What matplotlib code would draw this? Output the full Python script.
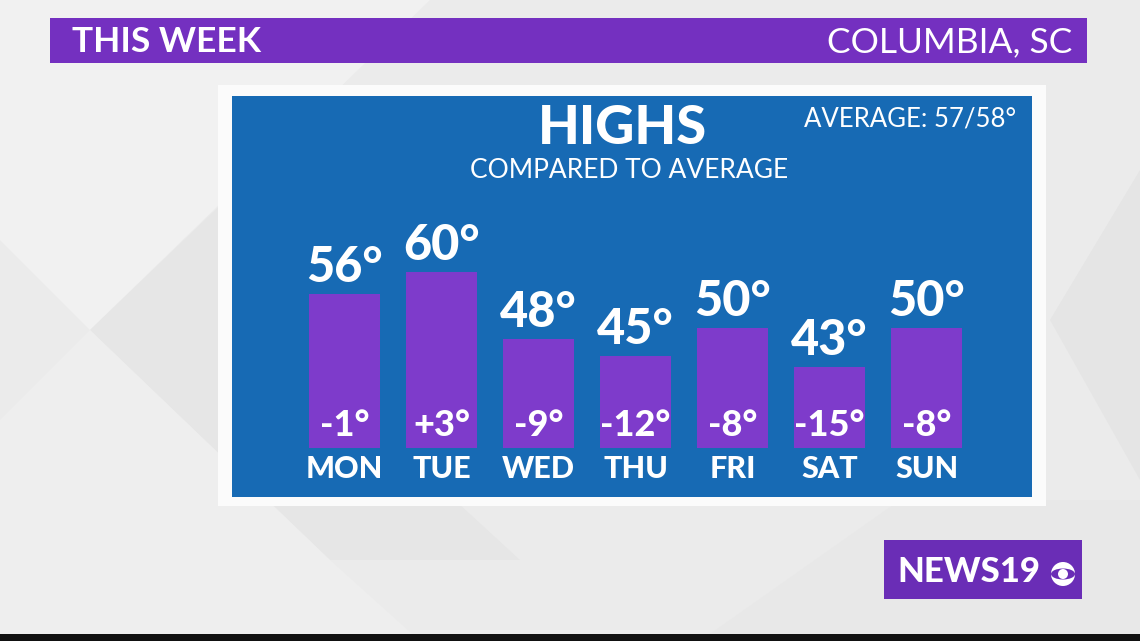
import matplotlib
matplotlib.use("Agg")
import matplotlib.pyplot as plt
from matplotlib.patches import Rectangle, Polygon, Circle, Ellipse
import matplotlib.transforms as mtransforms
import numpy as np

# ---- data ----
days = ["MON", "TUE", "WED", "THU", "FRI", "SAT", "SUN"]
highs = [56, 60, 48, 45, 50, 43, 50]
departures = ["-1°", "+3°", "-9°", "-12°", "-8°", "-15°", "-8°"]
title = "HIGHS"
subtitle = "COMPARED TO AVERAGE"
average_text = "AVERAGE: 57/58°"
header_left = "THIS WEEK"
header_right = "COLUMBIA, SC"
logo_text = "NEWS19"

W, H = 1140, 641
DPI = 100
FONT = "Lato"

fig = plt.figure(figsize=(W / DPI, H / DPI), dpi=DPI)
fig.patch.set_facecolor("#ebebeb")

# background axes in pixel coordinates
bg = fig.add_axes([0, 0, 1, 1])
bg.set_xlim(0, W)
bg.set_ylim(H, 0)
bg.axis("off")
bg.set_facecolor("#ebebeb")

# subtle chevrons
bg.add_patch(Polygon([[0, 0], [430, 0], [90, 330], [0, 240]],
                     closed=True, facecolor="#f1f1f1", edgecolor="none", zorder=0))
bg.add_patch(Polygon([[90, 330], [330, 100], [520, 100], [270, 330], [520, 560], [330, 560]],
                     closed=True, facecolor="#e6e6e6", edgecolor="none", zorder=0))
bg.add_patch(Polygon([[0, 420], [90, 330], [330, 560], [420, 641], [0, 641]],
                     closed=True, facecolor="#eeeeee", edgecolor="none", zorder=0))
bg.add_patch(Polygon([[1140, 170], [1050, 320], [1140, 480]],
                     closed=True, facecolor="#e5e5e5", edgecolor="none", zorder=0))
bg.add_patch(Polygon([[700, 641], [900, 500], [1140, 500], [1140, 641]],
                     closed=True, facecolor="#e8e8e8", edgecolor="none", zorder=0))

# header bar
bg.add_patch(Rectangle((50, 18), 1037, 45, facecolor="#7430c0", edgecolor="none", zorder=2))
bg.text(72, 42, header_left, color="white", fontsize=25.5, fontweight="bold",
        family=FONT, ha="left", va="center", zorder=3)
bg.text(1072, 42, header_right, color="white", fontsize=25.5, fontweight="normal",
        family=FONT, ha="right", va="center", zorder=3)

# white frame
bg.add_patch(Rectangle((218, 85), 828, 421, facecolor="#fbfbfb", edgecolor="none", zorder=2))

# logo
bg.add_patch(Rectangle((884, 540), 198, 59, facecolor="#6a2db6", edgecolor="none", zorder=2))
bg.text(897, 572, logo_text, color="white", fontsize=25, fontweight="black",
        family=FONT, ha="left", va="center", zorder=3)
bg.add_patch(Circle((1063, 574), 12, facecolor="white", edgecolor="none", zorder=3))
bg.add_patch(Ellipse((1063, 574), 24, 11, facecolor="#6a2db6", edgecolor="none", zorder=4))
bg.add_patch(Circle((1063, 574), 5, facecolor="white", edgecolor="none", zorder=5))

# bottom black strip
bg.add_patch(Rectangle((0, 634), W, 7, facecolor="#111111", edgecolor="none", zorder=2))

# ---- chart axes over the blue panel ----
px_l, px_t, px_r, px_b = 232, 96, 1032, 497
ax = fig.add_axes([px_l / W, 1 - px_b / H, (px_r - px_l) / W, (px_b - px_t) / H])
ax.set_facecolor("#176ab4")
for s in ax.spines.values():
    s.set_visible(False)
ax.set_xticks([])
ax.set_yticks([])

BASE = 28.6
scale = 5.61  # px per degree
base_px = 448
ax.set_ylim(BASE - (px_b - base_px) / scale, BASE + (base_px - px_t) / scale)
step = 97.0
c0 = 344.5
ax.set_xlim((px_l - c0) / step, (px_r - c0) / step)

x = np.arange(len(days))
heights = np.array(highs) - BASE
ax.bar(x, heights, bottom=BASE, width=71 / step, color="#7e3bcb", edgecolor="none", zorder=2)

for xi, hv in zip(x, highs):
    ax.annotate(f"{hv}°", (xi, hv), xytext=(0, 3), textcoords="offset points",
                ha="center", va="bottom", color="white", fontsize=35,
                fontweight="black", family=FONT, zorder=3)

blend = mtransforms.blended_transform_factory(ax.transData, ax.transAxes)
for xi, d in zip(x, departures):
    ax.text(xi, (px_b - 426) / (px_b - px_t), d, transform=blend, ha="center", va="center",
            color="white", fontsize=26, fontweight="black", family=FONT, zorder=3)
for xi, d in zip(x, days):
    ax.text(xi, (px_b - 469) / (px_b - px_t), d, transform=blend, ha="center", va="center",
            color="white", fontsize=22, fontweight="black", family=FONT, zorder=3)

def ay(py):
    return (px_b - py) / (px_b - px_t)

def axx(pxv):
    return (pxv - px_l) / (px_r - px_l)

ax.text(axx(622), ay(129), title, transform=ax.transAxes, ha="center", va="center",
        color="white", fontsize=39, fontweight="black", family=FONT)
ax.text(axx(629), ay(171), subtitle, transform=ax.transAxes, ha="center", va="center",
        color="white", fontsize=19, fontweight="normal", family=FONT)
ax.text(axx(1016), ay(119), average_text, transform=ax.transAxes, ha="right", va="center",
        color="white", fontsize=18.5, fontweight="normal", family=FONT)

fig.savefig("out.png", dpi=DPI)
